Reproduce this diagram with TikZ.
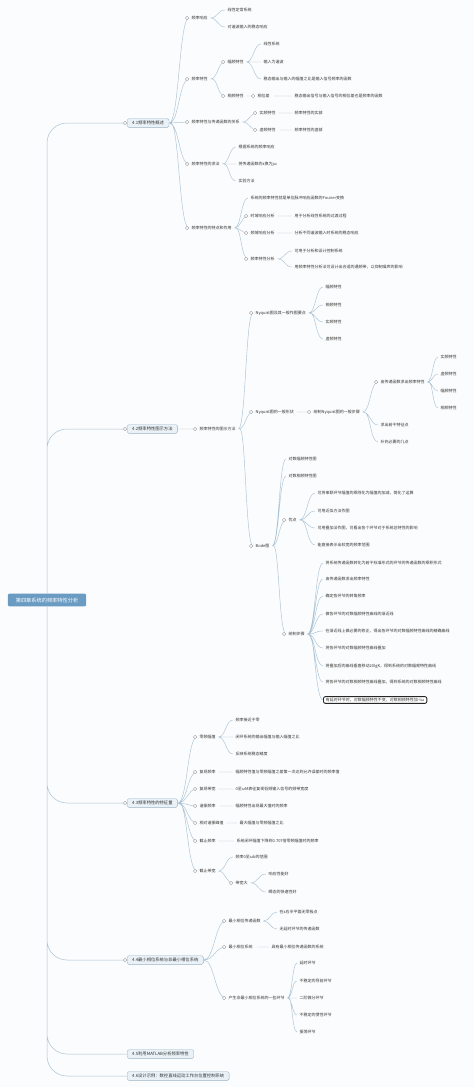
\documentclass[tikz,border=0pt]{standalone}
\usepackage{fontspec}
\setmainfont{Noto Sans CJK SC}
\usetikzlibrary{calc,backgrounds}
\definecolor{linkc}{HTML}{A9C3D5}
\definecolor{dotc}{HTML}{9A9A9A}
\definecolor{boxf}{HTML}{EAF2F8}
\definecolor{boxd}{HTML}{9DB2C5}
\definecolor{rootf}{HTML}{6A9BC3}
\definecolor{txt}{HTML}{333333}
\definecolor{bgc}{HTML}{FBFCFD}
\tikzset{
 t/.style={anchor=west,inner xsep=2.5pt,inner ysep=1pt,text=txt,font=\fontsize{4}{5}\selectfont},
 dot/.style={circle,draw=dotc,fill=white,line width=.35pt,inner sep=0pt,minimum size=3.4pt},
 h/.style={t,label distance=0pt,label={[dot]left:{}}},
 sec/.style={anchor=west,draw=boxd,fill=boxf,rounded corners=1.5pt,line width=.4pt,inner xsep=5pt,inner ysep=2.3pt,text=txt,font=\fontsize{4.3}{5}\selectfont},
 hsec/.style={sec,label distance=3pt,label={[dot]left:{}}},
 root/.style={fill=rootf,rounded corners=2pt,text=white,inner xsep=8pt,inner ysep=4pt,font=\fontsize{5.2}{6}\selectfont},
 sel/.style={t,draw=black!85,fill=white,line width=.9pt,rounded corners=2pt,inner ysep=1.5pt},
 fan/.style={linkc,line width=.45pt,shorten <=1.5pt,to path={.. controls ($(\tikztostart)!.5!(\tikztostart -| \tikztotarget)$) and ($(\tikztotarget)!.5!(\tikztostart |- \tikztotarget)$) .. (\tikztotarget)}},
 trunk/.style={linkc,line width=.5pt,rounded corners=20pt,to path={|- (\tikztotarget)}}
}
\begin{document}
\begin{tikzpicture}[x=1pt,y=-1pt]
\useasboundingbox(0,0)rectangle(474,1087);
\node[root](root)at(47,600){第四章系统的频率特性分析};
% chapters
\node[hsec](s1)at(127,123){4.1频率特性概述};
\node[hsec](s2)at(127,429){4.2频率特性图示方法};
\node[hsec](s3)at(127,803){4.3频率特性的特征量};
\node[hsec](s4)at(127,960){4.4最小相位系统与非最小相位系统};
\node[sec](s5)at(127,1054){4.5利用MATLAB分析频率特性};
\node[sec](s6)at(127,1076){4.6设计示例：数控直线运动工作台位置控制系统};
% 4.1
\node[h](a1)at(189,18){频率响应};\node[t](a11)at(225,10){线性定常系统};\node[t](a12)at(225,27){对谐波输入的稳态响应};
\node[h](a2)at(189,79){频率特性};\node[h](a21)at(225,62){幅频特性};\node[h](a22)at(225,96){相频特性};
\node[t](a211)at(261,44){线性系统};\node[t](a212)at(261,62){输入为谐波};\node[t](a213)at(261,79){稳态输出与输入的幅值之比是输入信号频率的函数};
\node[h](a221)at(255,96){相位差};\node[t](a2211)at(292,96){稳态输出信号与输入信号的相位差也是频率的函数};
\node[h](a3)at(189,122){频率特性与传递函数的关系};\node[h](a31)at(257,113){实频特性};\node[t](a311)at(292,113){频率特性的实部};
\node[h](a32)at(257,130){虚频特性};\node[t](a321)at(292,130){频率特性的虚部};
\node[h](a4)at(189,164){频率特性的求法};\node[t](a41)at(236,147){根据系统的频率响应};\node[t](a42)at(236,164){将传递函数的s换为jω};\node[t](a43)at(236,181){实验方法};
\node[h](a5)at(189,228){频率特性的特点和作用};\node[t](a51)at(248,198){系统的频率特性就是单位脉冲响应函数的Fourier变换};
\node[h](a52)at(248,216){时域响应分析};\node[t](a521)at(292,216){用于分析线性系统的过渡过程};
\node[h](a53)at(248,233){频域响应分析};\node[t](a531)at(292,233){分析不同谐波输入时系统的稳态响应};
\node[h](a54)at(248,259){频率特性分析};\node[t](a541)at(292,251){可用于分析和设计控制系统};\node[t](a542)at(292,267){用频率特性分析法可设计出合适的通频带，以抑制噪声的影响};
% 4.2
\node[h](b1)at(197,429){频率特性的图示方法};
\node[h](b2)at(253,313){Nyquist图及其一般作图要点};
\node[t](b21)at(323,287){幅频特性};\node[t](b22)at(323,305){相频特性};\node[t](b23)at(323,322){实频特性};\node[t](b24)at(323,339){虚频特性};
\node[h](b3)at(253,412){Nyquist图的一般形状};\node[h](b31)at(311,412){绘制Nyquist图的一般步骤};
\node[h](b311)at(378,382){由传递函数求出频率特性};
\node[t](b3111)at(438,357){实频特性};\node[t](b3112)at(438,374){虚频特性};\node[t](b3113)at(438,391){幅频特性};\node[t](b3114)at(438,408){相频特性};
\node[t](b312)at(378,425){求出若干特征点};\node[t](b313)at(378,442){补充必要的几点};
\node[h](b4)at(253,546){Bode图};
\node[t](b41)at(286,459){对数幅频特性图};\node[t](b42)at(286,476){对数相频特性图};
\node[h](b43)at(286,520){优点};
\node[t](b431)at(315,493){可将串联环节幅值的乘除化为幅值的加减，简化了运算};\node[t](b432)at(315,511){可用近似方法作图};
\node[t](b433)at(315,528){可用叠加法作图，可看出各个环节对于系统总特性的影响};\node[t](b434)at(315,545){能直接表示出较宽的频率范围};
\node[h](b44)at(286,634){绘制步骤};
\node[t](b441)at(323,563){将系统传递函数转化为若干标准形式的环节的传递函数的乘积形式};
\node[t](b442)at(323,579){由传递函数求出频率特性};
\node[t](b443)at(323,596){确定各环节的转角频率};
\node[t](b444)at(323,614){做各环节的对数幅频特性曲线的渐近线};
\node[t](b445)at(323,631){在渐近线上做必要的修正，得出各环节的对数幅频特性曲线的精确曲线};
\node[t](b446)at(323,648){将各环节的对数幅频特性曲线叠加};
\node[t](b447)at(323,666){将叠加后的曲线垂直移动20lgK，得到系统的对数幅频特性曲线};
\node[t](b448)at(323,682){将各环节的对数相频特性曲线叠加，得到系统的对数相频特性曲线};
\node[sel](b449)at(323,700){有延时环节时，对数幅频特性不变，对数相频特性加-τω};
% 4.3
\node[h](c1)at(197,737){零频幅值};\node[t](c11)at(233,720){频率接近于零};\node[t](c12)at(233,737){闭环系统的输出幅值与输入幅值之比};\node[t](c13)at(233,754){反映系统稳态精度};
\node[h](c2)at(197,772){复现频率};\node[t](c21)at(233,772){幅频特性值与零频幅值之差第一次达到允许误差时的频率值};
\node[h](c3)at(197,789){复现带宽};\node[t](c31)at(233,789){0至ωM表征复现低频输入信号的频带宽度};
\node[h](c4)at(197,806){谐振频率};\node[t](c41)at(233,806){幅频特性出现最大值时的频率};
\node[h](c5)at(197,823){相对谐振峰值};\node[t](c51)at(237,823){最大幅值与零频幅值之比};
\node[h](c6)at(197,841){截止频率};\node[t](c61)at(234,841){系统闭环幅值下降到0.707倍零频幅值时的频率};
\node[h](c7)at(197,871){截止带宽};\node[t](c71)at(233,857){频率0至ωb的范围};\node[h](c72)at(233,883){带宽大};
\node[t](c721)at(266,874){响应性能好};\node[t](c722)at(266,892){瞬态的快速性好};
% 4.4
\node[h](d1)at(226,921){最小相位传递函数};\node[t](d11)at(277,912){在s右半平面无零极点};\node[t](d12)at(277,929){无延时环节的传递函数};
\node[h](d2)at(226,947){最小相位系统};\node[t](d21)at(269,947){具有最小相位传递函数的系统};
\node[h](d3)at(226,998){产生非最小相位系统的一些环节};
\node[t](d31)at(297,963){延时环节};\node[t](d32)at(297,981){不稳定的导前环节};\node[t](d33)at(297,998){二阶微分环节};\node[t](d34)at(297,1015){不稳定的惯性环节};\node[t](d35)at(297,1032){振荡环节};
\begin{pgfonlayer}{background}
\fill[bgc](0,0)rectangle(474,1087);
\draw[trunk](root.north)to(s1.west)(root.north)to(s2.west)(root.south)to(s3.west)(root.south)to(s4.west)(root.south)to(s5.west)(root.south)to(s6.west);
% links of 4.1
\draw[fan](s1.east)to(a1.west)(s1.east)to(a2.west)(s1.east)to(a3.west)(s1.east)to(a4.west)(s1.east)to(a5.west);
\draw[fan](a1.east)to(a11.west)(a1.east)to(a12.west)(a2.east)to(a21.west)(a2.east)to(a22.west);
\draw[fan](a21.east)to(a211.west)(a21.east)to(a212.west)(a21.east)to(a213.west)(a22.east)to(a221.west)(a221.east)to(a2211.west);
\draw[fan](a3.east)to(a31.west)(a3.east)to(a32.west)(a31.east)to(a311.west)(a32.east)to(a321.west);
\draw[fan](a4.east)to(a41.west)(a4.east)to(a42.west)(a4.east)to(a43.west);
\draw[fan](a5.east)to(a51.west)(a5.east)to(a52.west)(a5.east)to(a53.west)(a5.east)to(a54.west);
\draw[fan](a52.east)to(a521.west)(a53.east)to(a531.west)(a54.east)to(a541.west)(a54.east)to(a542.west);
% links of 4.2
\draw[fan](s2.east)to(b1.west)(b1.east)to(b2.west)(b1.east)to(b3.west)(b1.east)to(b4.west);
\draw[fan](b2.east)to(b21.west)(b2.east)to(b22.west)(b2.east)to(b23.west)(b2.east)to(b24.west);
\draw[fan](b3.east)to(b31.west)(b31.east)to(b311.west)(b31.east)to(b312.west)(b31.east)to(b313.west);
\draw[fan](b311.east)to(b3111.west)(b311.east)to(b3112.west)(b311.east)to(b3113.west)(b311.east)to(b3114.west);
\draw[fan](b4.east)to(b41.west)(b4.east)to(b42.west)(b4.east)to(b43.west)(b4.east)to(b44.west);
\draw[fan](b43.east)to(b431.west)(b43.east)to(b432.west)(b43.east)to(b433.west)(b43.east)to(b434.west);
\draw[fan](b44.east)to(b441.west)(b44.east)to(b442.west)(b44.east)to(b443.west)(b44.east)to(b444.west)(b44.east)to(b445.west);
\draw[fan](b44.east)to(b446.west)(b44.east)to(b447.west)(b44.east)to(b448.west)(b44.east)to(b449.west);
% links of 4.3
\draw[fan](s3.east)to(c1.west)(s3.east)to(c2.west)(s3.east)to(c3.west)(s3.east)to(c4.west)(s3.east)to(c5.west)(s3.east)to(c6.west)(s3.east)to(c7.west);
\draw[fan](c1.east)to(c11.west)(c1.east)to(c12.west)(c1.east)to(c13.west)(c2.east)to(c21.west)(c3.east)to(c31.west)(c4.east)to(c41.west);
\draw[fan](c5.east)to(c51.west)(c6.east)to(c61.west)(c7.east)to(c71.west)(c7.east)to(c72.west)(c72.east)to(c721.west)(c72.east)to(c722.west);
% links of 4.4
\draw[fan](s4.east)to(d1.west)(s4.east)to(d2.west)(s4.east)to(d3.west)(d1.east)to(d11.west)(d1.east)to(d12.west)(d2.east)to(d21.west);
\draw[fan](d3.east)to(d31.west)(d3.east)to(d32.west)(d3.east)to(d33.west)(d3.east)to(d34.west)(d3.east)to(d35.west);
\end{pgfonlayer}
\end{tikzpicture}
\end{document}
